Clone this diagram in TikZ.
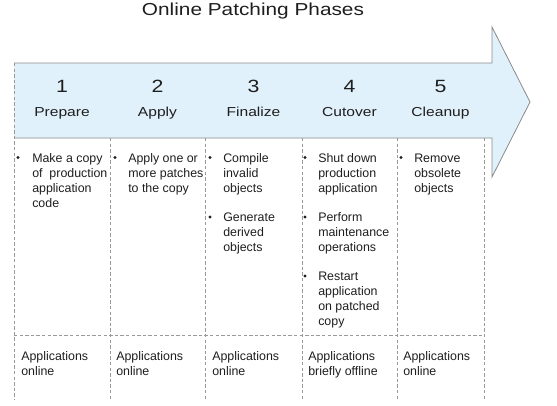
\documentclass[tikz,border=0pt]{standalone}
\usepackage{fontspec}
\setmainfont{Liberation Sans}
\newfontfamily\widesans[FakeStretch=1.2]{Liberation Sans}
\newcommand\toplines[1]{\begin{tabular}[t]{@{}l@{}}#1\end{tabular}}
\definecolor{arrowfill}{HTML}{E1F1FB}
\definecolor{arrowline}{HTML}{8A8A8A}
\definecolor{dashcol}{HTML}{9A9A9A}
\definecolor{txt}{HTML}{1E1E1E}
\begin{document}
\begin{tikzpicture}[x=0.75pt,y=-0.75pt,
  titletext/.style={inner sep=0pt,anchor=base,text=txt,font=\widesans\fontsize{13}{15}\selectfont},
  numtext/.style={inner sep=0pt,anchor=base,text=txt,font=\widesans\fontsize{13.3}{15}\selectfont},
  phasetext/.style={inner sep=0pt,anchor=base,text=txt,font=\widesans\fontsize{9.75}{12}\selectfont},
  bodytext/.style={inner sep=0pt,anchor=base west,text=txt,font=\fontsize{9.3}{11.25}\selectfont},
  colline/.style={draw=dashcol,line width=0.6pt,dash pattern=on 2.6pt off 1.6pt},
  bulletdot/.style={circle,fill=txt,inner sep=0pt,minimum size=2.6pt}
]
\useasboundingbox (0,0) rectangle (557,405);
% title
\node[titletext] (title) at (253,15.7) {Online Patching Phases};
% arrow
\fill[arrowfill] (14,63) -- (492,63) -- (492,27) -- (530,102) -- (492,177) -- (492,138) -- (14,138) -- cycle;
\draw[arrowline,line width=0.6pt] (14,63) -- (492,63) -- (492,27) -- (530,102) -- (492,177) -- (492,138) -- (14,138);
% column lines
\draw[colline] (14,63) -- (14,400);
\foreach \cx in {110,205,302,397,484}{
  \draw[colline] (\cx,138) -- (\cx,400);
}
\draw[colline] (14,335) -- (484,335);
% phase headings
\node[numtext] (n1) at (62,92.7) {1};
\node[numtext] (n2) at (157.5,92.7) {2};
\node[numtext] (n3) at (253.5,92.7) {3};
\node[numtext] (n4) at (349.5,92.7) {4};
\node[numtext] (n5) at (440.5,92.7) {5};
\node[phasetext] (p1) at (62,116) {Prepare};
\node[phasetext] (p2) at (157.5,116) {Apply};
\node[phasetext] (p3) at (253.5,116) {Finalize};
\node[phasetext] (p4) at (349.5,116) {Cutover};
\node[phasetext] (p5) at (440.5,116) {Cleanup};
% bullets column 1
\node[bulletdot] (b1a) at (18,157.5) {};
\node[bodytext] (t1a) at (32,162) {\toplines{Make a copy\\of~ production\\application\\code}};
% column 2
\node[bulletdot] (b2a) at (115,157.5) {};
\node[bodytext] (t2a) at (128,162) {\toplines{Apply one or\\more patches\\to the copy}};
% column 3
\node[bulletdot] (b3a) at (210,157.5) {};
\node[bodytext] (t3a) at (223,162) {\toplines{Compile\\invalid\\objects}};
\node[bulletdot] (b3b) at (210,217) {};
\node[bodytext] (t3b) at (223,221.5) {\toplines{Generate\\derived\\objects}};
% column 4
\node[bulletdot] (b4a) at (305,157.5) {};
\node[bodytext] (t4a) at (318,162) {\toplines{Shut down\\production\\application}};
\node[bulletdot] (b4b) at (305,217) {};
\node[bodytext] (t4b) at (318,221.5) {\toplines{Perform\\maintenance\\operations}};
\node[bulletdot] (b4c) at (305,276) {};
\node[bodytext] (t4c) at (318,280.5) {\toplines{Restart\\application\\on patched\\copy}};
% column 5
\node[bulletdot] (b5a) at (401,157.5) {};
\node[bodytext] (t5a) at (414,162) {\toplines{Remove\\obsolete\\objects}};
% status row
\node[bodytext] (s1) at (21,360) {\toplines{Applications\\online}};
\node[bodytext] (s2) at (116,360) {\toplines{Applications\\online}};
\node[bodytext] (s3) at (212,360) {\toplines{Applications\\online}};
\node[bodytext] (s4) at (308,360) {\toplines{Applications\\briefly offline}};
\node[bodytext] (s5) at (403,360) {\toplines{Applications\\online}};
\end{tikzpicture}
\end{document}
